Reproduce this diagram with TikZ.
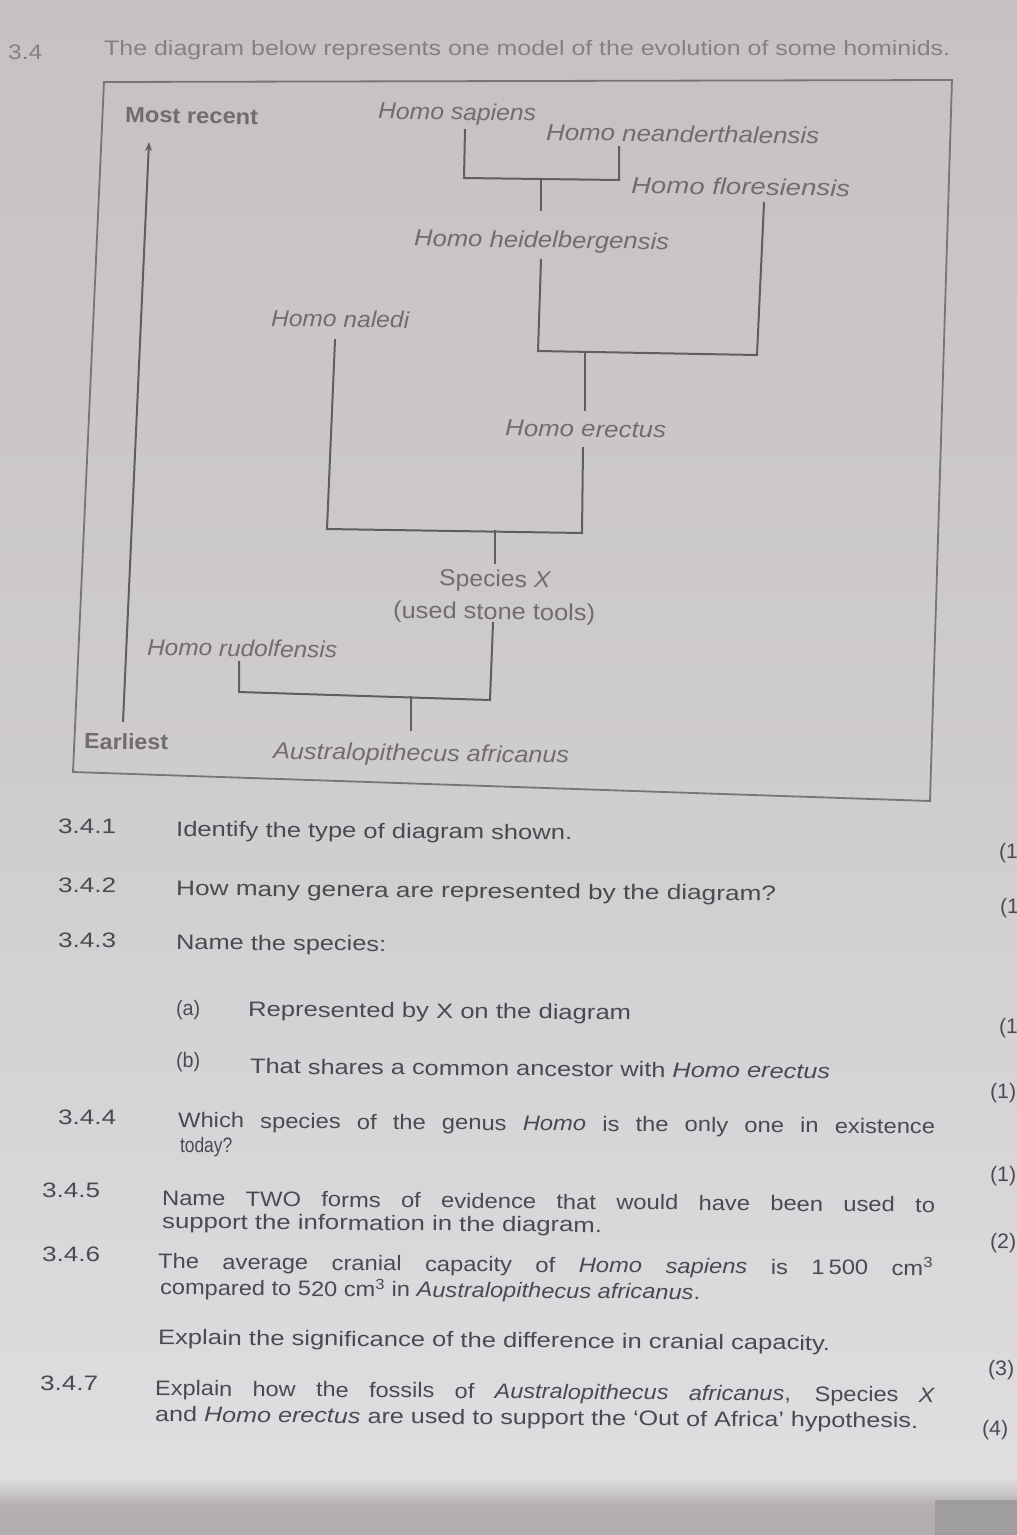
\documentclass[tikz,border=0pt]{standalone}
\usepackage{fontspec}
\setmainfont{Liberation Sans}
\usepackage{graphicx}
\usetikzlibrary{arrows.meta}
\definecolor{paperA}{RGB}{198,193,195}
\definecolor{paperB}{RGB}{207,204,206}
\definecolor{paperC}{RGB}{224,223,226}
\definecolor{shadowc}{RGB}{178,174,177}
\definecolor{cornerc}{RGB}{160,157,161}
\definecolor{linec}{RGB}{96,94,99}
\definecolor{framec}{RGB}{120,117,121}
\definecolor{labc}{RGB}{112,108,113}
\definecolor{bodyc}{RGB}{76,74,80}
\definecolor{headc}{RGB}{132,128,133}
\newcommand\fitw[2]{\resizebox{#1pt}{\height}{#2}}
% target width, inner width, text: letters widened, spaces stretched
\newcommand\spreadw[3]{\resizebox{#1pt}{\height}{\makebox[#2pt][s]{#3}}}
\begin{document}
\begin{tikzpicture}[x=1pt,y=-1pt,
  lab/.style={font=\fontsize{23}{25}\selectfont\itshape, text=labc, inner sep=0pt, anchor=west, rotate=-0.8},
  labup/.style={font=\fontsize{23}{25}\selectfont, text=labc, inner sep=0pt, anchor=west, rotate=-0.8},
  labbold/.style={font=\fontsize{22}{24}\selectfont\bfseries, text=labc, inner sep=0pt, anchor=west, rotate=-0.8},
  body/.style={font=\fontsize{21}{23}\selectfont, text=bodyc, inner sep=0pt, anchor=west, rotate=-0.5},
  head/.style={font=\fontsize{21}{24}\selectfont, text=headc, inner sep=0pt, anchor=west},
  tree/.style={draw=linec, line width=2pt, line join=miter, line cap=rect},
  frame/.style={draw=framec, line width=1.8pt}]
\useasboundingbox (0,0) rectangle (1017,1535);
% paper
\shade[top color=paperA, bottom color=paperC, middle color=paperB] (0,0) rectangle (1017,1535);
\shade[top color=paperC, bottom color=shadowc] (0,1478) rectangle (1017,1506);
\fill[shadowc] (0,1506) rectangle (1017,1535);
\fill[cornerc] (935,1500) rectangle (1017,1535);

% heading
\node[head] (qnum) at (8,52) {\fitw{34}{3.4}};
\node[head] (qtext) at (104,50) {\fitw{846}{The diagram below represents one model of the evolution of some hominids.}};

% frame
\coordinate (fTL) at (104,82);
\coordinate (fTR) at (952,80);
\coordinate (fBR) at (930,801);
\coordinate (fBL) at (73,772);
\draw[frame] (fTL) -- (fTR) -- (fBR) -- (fBL) -- cycle;

% time axis
\node[labbold] (recent) at (125,115) {\fitw{133}{Most recent}};
\node[labbold] (earliest) at (84,741) {\fitw{84}{Earliest}};
\coordinate (axB) at (123,722);
\coordinate (axT) at (149,142);
\draw[tree, line cap=butt, -{Stealth[length=9pt,width=7pt]}] (axB) -- (axT);

% labels
\node[lab] (sapiens) at (378,113) {\fitw{158}{Homo sapiens}};
\node[lab] (neander) at (546,132) {\fitw{273}{Homo neanderthalensis}};
\node[lab] (flores) at (631,185) {\fitw{219}{Homo floresiensis}};
\node[lab] (heidel) at (414,240) {\fitw{255}{Homo heidelbergensis}};
\node[lab] (naledi) at (271,318) {\fitw{138}{Homo naledi}};
\node[lab] (erectus) at (505,428) {\fitw{161}{Homo erectus}};
\node[labup] (specx) at (439,580) {\fitw{112}{Species \textit{X}}};
\node[labup] (tools) at (393,612) {\fitw{202}{(used stone tools)}};
\node[lab] (rudolf) at (147,647) {\fitw{190}{Homo rudolfensis}};
\node[lab] (austral) at (273,753) {\fitw{296}{Australopithecus africanus}};

% tree: sapiens / neanderthalensis
\coordinate (sapB) at (465,130);
\coordinate (sapC) at (464,178);
\coordinate (neaC) at (619,180);
\coordinate (neaB) at (619,147);
\coordinate (j1) at (541,179);
\coordinate (j1d) at (541,210);
\draw[tree] (sapB) -- (sapC) -- (neaC) -- (neaB);
\draw[tree] (j1) -- (j1d);
% heidelbergensis / floresiensis
\coordinate (heiB) at (541,260);
\coordinate (heiC) at (538,351);
\coordinate (floC) at (757,355);
\coordinate (floB) at (764,203);
\coordinate (j2) at (585,352);
\coordinate (j2d) at (585,410);
\draw[tree] (heiB) -- (heiC) -- (floC) -- (floB);
\draw[tree] (j2) -- (j2d);
% erectus / naledi
\coordinate (ereB) at (583,448);
\coordinate (ereC) at (582,533);
\coordinate (nalC) at (327,529);
\coordinate (nalB) at (335,340);
\coordinate (j3) at (495,531);
\coordinate (j3d) at (495,563);
\draw[tree] (ereB) -- (ereC) -- (nalC) -- (nalB);
\draw[tree] (j3) -- (j3d);
% species X / rudolfensis
\coordinate (spxB) at (493,623);
\coordinate (spxC) at (490,700);
\coordinate (rudC) at (239,692);
\coordinate (rudB) at (239,662);
\coordinate (j4) at (411,697);
\coordinate (j4d) at (411,730);
\draw[tree] (spxB) -- (spxC) -- (rudC) -- (rudB);
\draw[tree] (j4) -- (j4d);

% questions
\node[body] (n341) at (58,826) {\fitw{58}{3.4.1}};
\node[body] (t341) at (176,831) {\fitw{396}{Identify the type of diagram shown.}};
\node[body] (m341) at (999,853) {(1};
\node[body] (n342) at (58,885) {\fitw{58}{3.4.2}};
\node[body] (t342) at (176,890) {\fitw{600}{How many genera are represented by the diagram?}};
\node[body] (m342) at (1000,908) {(1};
\node[body] (n343) at (58,940) {\fitw{58}{3.4.3}};
\node[body] (t343) at (176,944) {\fitw{210}{Name the species:}};
\node[body] (na) at (176,1010) {\fitw{24}{(a)}};
\node[body] (ta) at (248,1011) {\fitw{383}{Represented by X on the diagram}};
\node[body] (ma) at (999,1028) {(1};
\node[body] (nb) at (176,1062) {\fitw{24}{(b)}};
\node[body] (tb) at (250,1066) {\fitw{580}{That shares a common ancestor with \textit{Homo erectus}}};
\node[body] (mb) at (990,1093) {\fitw{26}{(1)}};
\node[body] (n344) at (58,1117) {\fitw{58}{3.4.4}};
\node[body] (t344) at (178,1122) {\spreadw{757}{670}{Which species of the genus \textit{Homo} is the only one in existence}};
\node[body] (t344b) at (180,1147) {\fitw{52}{today?}};
\node[body] (m344) at (990,1176) {\fitw{26}{(1)}};
\node[body] (n345) at (42,1190) {\fitw{58}{3.4.5}};
\node[body] (t345) at (162,1198) {\spreadw{773}{684}{Name TWO forms of evidence that would have been used to}};
\node[body] (t345b) at (162,1223) {\fitw{440}{support the information in the diagram.}};
\node[body] (m345) at (990,1243) {\fitw{26}{(2)}};
\node[body] (n346) at (42,1254) {\fitw{58}{3.4.6}};
\node[body] (t346) at (158,1262) {\spreadw{775}{686}{The average cranial capacity of \textit{Homo sapiens} is 1\,500 cm\textsuperscript{3}}};
\node[body] (t346b) at (160,1288) {\fitw{540}{compared to 520 cm\textsuperscript{3} in \textit{Australopithecus africanus}.}};
\node[body] (t346c) at (158,1339) {\fitw{672}{Explain the significance of the difference in cranial capacity.}};
\node[body] (m346) at (988,1370) {\fitw{26}{(3)}};
\node[body] (n347) at (40,1383) {\fitw{58}{3.4.7}};
\node[body] (t347) at (155,1390) {\spreadw{780}{696}{Explain how the fossils of \textit{Australopithecus africanus}, Species \textit{X}}};
\node[body] (t347b) at (155,1416) {\fitw{763}{and \textit{Homo erectus} are used to support the `Out of Africa' hypothesis.}};
\node[body] (m347) at (982,1430) {\fitw{26}{(4)}};
\end{tikzpicture}
\end{document}
